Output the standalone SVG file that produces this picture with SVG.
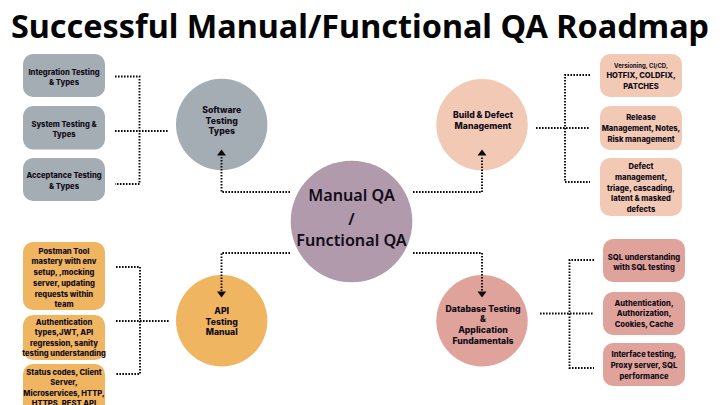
<svg xmlns="http://www.w3.org/2000/svg" width="720" height="405" viewBox="0 0 720 405">
<style>
text{font-family:"Inter","Noto Sans","Liberation Sans",sans-serif;font-weight:800;fill:#120c18;text-anchor:middle;font-size:7.6px}
.title{font-family:"Noto Sans","Open Sans",sans-serif;font-size:32.400px;font-weight:700;fill:#050505}
.center{font-family:"Noto Sans","Open Sans",sans-serif;font-size:16.200px;font-weight:650}
.hub{font-size:8.700px}
.conn path{fill:none;stroke:#0a0a0a;stroke-width:1.900;stroke-dasharray:1.600 1.400}
.conn polygon{fill:#0a0a0a}
.g{fill:#a4adb3}.p{fill:#f2c9b5}.o{fill:#efb560}.r{fill:#e0a39b}.m{fill:#b09aac}
</style>
<rect width="720" height="405" fill="#fff"/>
<text id="title" class="title" x="360" y="38">Successful Manual/Functional QA Roadmap</text>
<g id="center"><circle class="m" cx="351.500" cy="221.500" r="60.800"/>
<text class="center" x="351.500" y="201">Manual QA</text><text class="center" x="351.500" y="225">/</text><text class="center" x="351.500" y="246">Functional QA</text></g>
<g id="hub-software"><circle class="g" cx="221.700" cy="124.500" r="45.700"/>
<text class="hub" x="221.700" y="113">Software</text><text class="hub" x="221.700" y="124">Testing</text><text class="hub" x="221.700" y="134">Types</text></g>
<g id="hub-build"><circle class="p" cx="482" cy="124.700" r="45.700"/>
<text class="hub" x="483" y="118">Build &amp; Defect</text><text class="hub" x="483" y="129">Management</text></g>
<g id="hub-api"><circle class="o" cx="221.700" cy="320.800" r="45.700"/>
<text class="hub" x="221.700" y="314">API</text><text class="hub" x="221.700" y="325">Testing</text><text class="hub" x="221.700" y="335">Manual</text></g>
<g id="hub-db"><circle class="r" cx="482" cy="320.800" r="45.700"/>
<text class="hub" x="483" y="312">Database Testing</text><text class="hub" x="483" y="322">&amp;</text><text class="hub" x="483" y="333">Application</text><text class="hub" x="483" y="344">Fundamentals</text></g>
<g id="box-integration"><rect class="g" x="23" y="54" width="82" height="43" rx="10"/>
<text x="64" y="74.500">Integration Testing</text><text x="64" y="85">&amp; Types</text></g>
<g id="box-system"><rect class="g" x="23" y="106" width="82" height="43.500" rx="10"/>
<text x="64" y="126.500">System Testing &amp;</text><text x="64" y="137">Types</text></g>
<g id="box-acceptance"><rect class="g" x="23" y="158" width="82" height="43" rx="10"/>
<text x="64" y="178">Acceptance Testing</text><text x="64" y="189">&amp; Types</text></g>
<g id="box-postman"><rect class="o" x="23" y="242" width="82" height="68" rx="10"/>
<text x="64" y="253.500">Postman Tool</text><text x="64" y="264">mastery with env</text><text x="64" y="275">setup, ,mocking</text><text x="64" y="285.500">server, updating</text><text x="64" y="296.500">requests within</text><text x="64" y="307">team</text></g>
<g id="box-auth-types"><rect class="o" x="23" y="315" width="82" height="45" rx="10"/>
<text x="64" y="325">Authentication</text><text x="64" y="335">types,JWT, API</text><text x="64" y="346">regression, sanity</text><text x="64" y="356">testing understanding</text></g>
<g id="box-status"><rect class="o" x="23" y="364" width="82" height="60" rx="10"/>
<text x="64" y="375">Status codes, Client</text><text x="64" y="385">Server,</text><text x="64" y="396">Microservices, HTTP,</text><text x="64" y="406">HTTPS, REST API</text></g>
<g id="box-versioning"><rect class="p" x="600" y="54" width="82" height="43" rx="10"/>
<text x="641" y="68" style="font-size:6px;font-weight:700">Versioning, CI/CD,</text><text x="641" y="78">HOTFIX, COLDFIX,</text><text x="641" y="89">PATCHES</text></g>
<g id="box-release"><rect class="p" x="600" y="106" width="82" height="44" rx="10"/>
<text x="641" y="120">Release</text><text x="641" y="131">Management, Notes,</text><text x="641" y="142">Risk management</text></g>
<g id="box-defect"><rect class="p" x="600" y="158" width="82" height="58" rx="10"/>
<text x="641" y="169">Defect</text><text x="641" y="180">management,</text><text x="641" y="190.500">triage, cascading,</text><text x="641" y="201">latent &amp; masked</text><text x="641" y="212">defects</text></g>
<g id="box-sql"><rect class="r" x="603" y="239" width="82" height="43" rx="10"/>
<text x="644" y="259.500">SQL understanding</text><text x="644" y="270">with SQL testing</text></g>
<g id="box-authn"><rect class="r" x="603" y="292" width="82" height="43" rx="10"/>
<text x="644" y="305.500">Authentication,</text><text x="644" y="316">Authorization,</text><text x="644" y="327">Cookies, Cache</text></g>
<g id="box-interface"><rect class="r" x="603" y="343" width="82" height="43" rx="10"/>
<text x="644" y="357">Interface testing,</text><text x="644" y="368">Proxy server, SQL</text><text x="644" y="379">performance</text></g>
<g id="connectors" class="conn">
<path d="M115 76.500H139.500V184H115M115 131H169"/>
<path d="M290 192H221.500V156"/><polygon points="221.500,149.500 226,155.500 217,155.500"/>
<path d="M116 267H140V374H116M116 321H169"/>
<path d="M290 253H221.500V292"/><polygon points="221.500,297.500 226,291.500 217,291.500"/>
<path d="M590 75H565V182H590M536 128H590"/>
<path d="M413 192H482V156"/><polygon points="482,149.500 486.500,155.500 477.500,155.500"/>
<path d="M594 260H569.500V368H594M540 313.500H594"/>
<path d="M413 253H482V292"/><polygon points="482,297.500 486.500,291.500 477.500,291.500"/>
</g>
</svg>
